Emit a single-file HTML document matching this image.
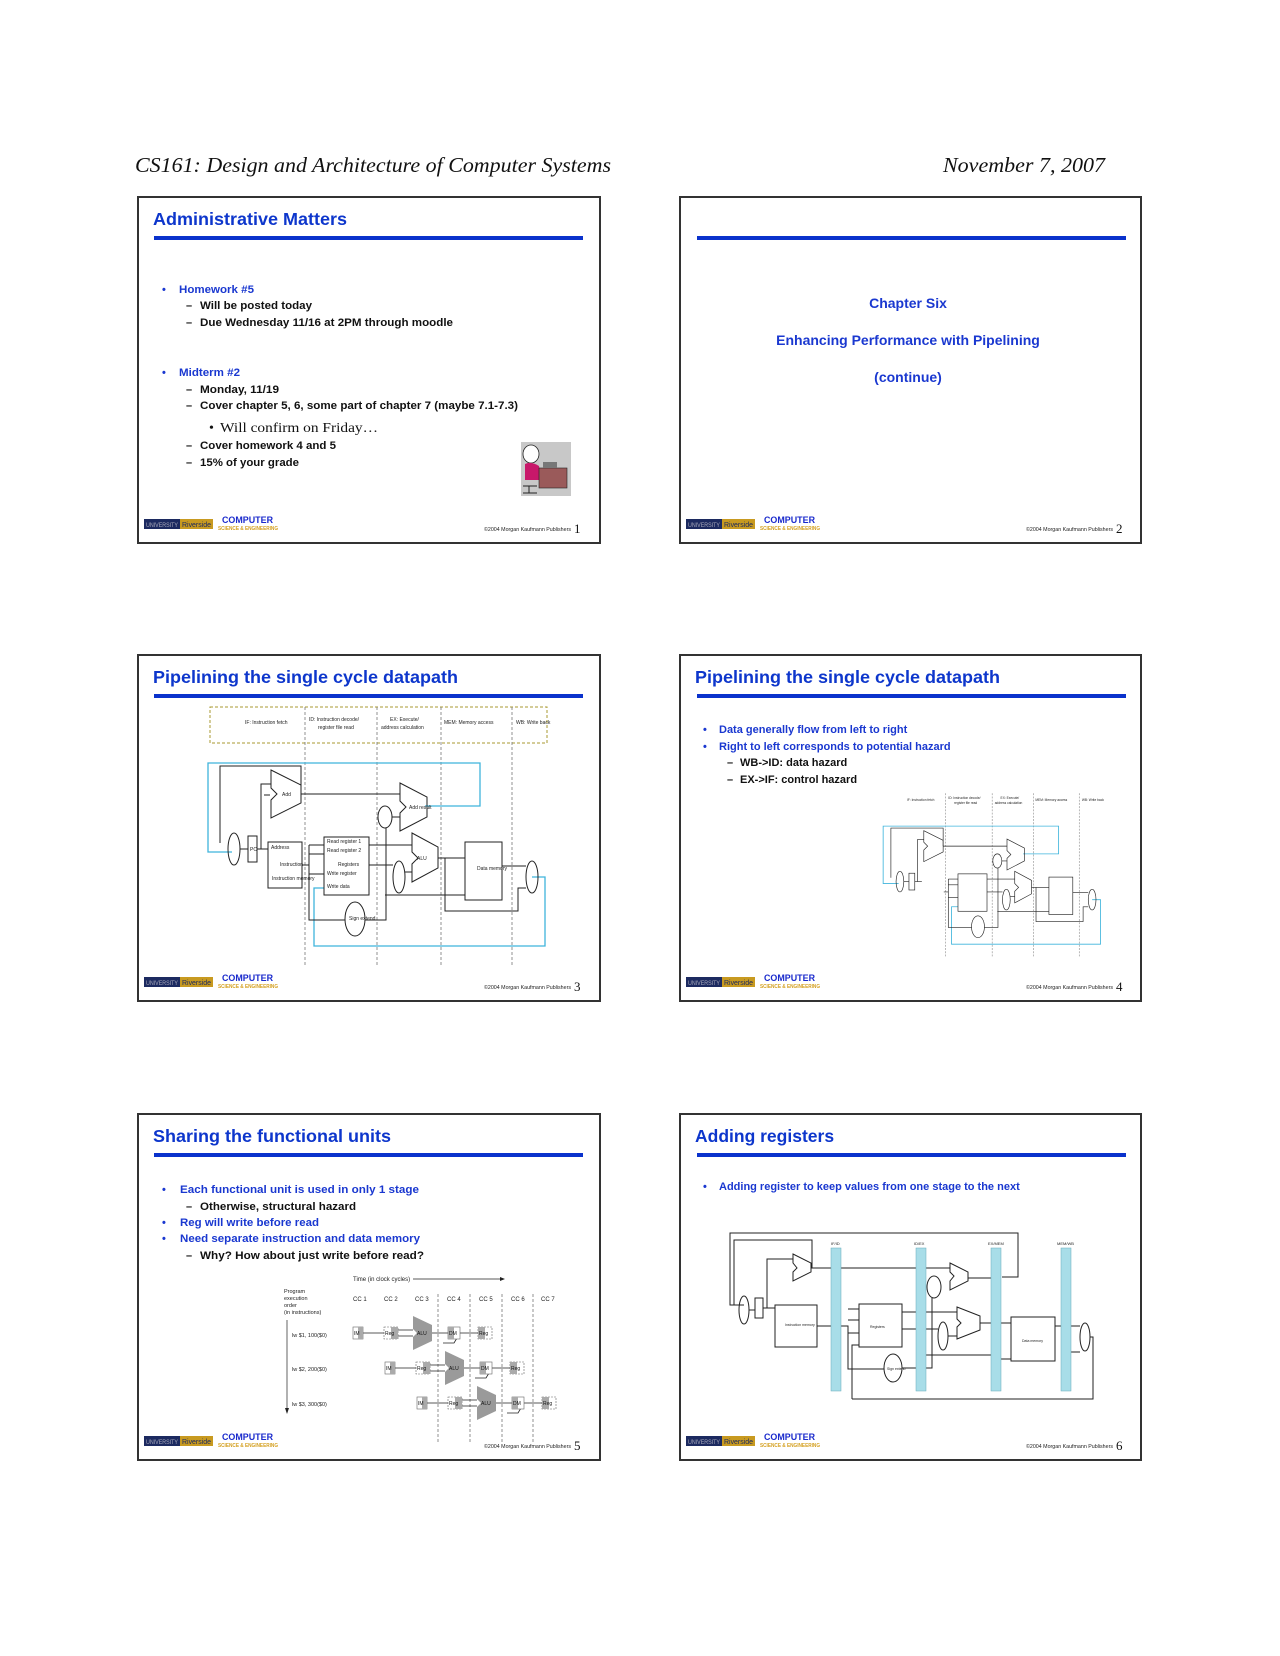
<!DOCTYPE html>
<html><head><meta charset="utf-8"><style>
html,body{margin:0;padding:0;background:#fff;}
svg{display:block;}
text{font-family:"Liberation Sans",Arial,sans-serif;}
text.sr{font-family:"Liberation Serif","Times New Roman",serif;}
.t{font-size:17.5px;font-weight:bold;fill:#0d36cc;}
.b{font-size:11px;font-weight:bold;fill:#1a38d0;}
.k{font-size:11px;font-weight:bold;fill:#111;}
.s{font-size:5px;fill:#222;}
.d{fill:none;stroke:#222;stroke-width:1;}
.c{fill:none;stroke:#3fb4dc;stroke-width:1.3;}
.v{stroke:#777;stroke-width:0.8;stroke-dasharray:3,2;}
</style></head><body>
<svg width="1280" height="1656" viewBox="0 0 1280 1656" xmlns="http://www.w3.org/2000/svg">
<rect width="1280" height="1656" fill="#fff"/>
<text class="sr" x="135" y="172" font-style="italic" font-size="21" fill="#111" textLength="476" lengthAdjust="spacingAndGlyphs">CS161: Design and Architecture of Computer Systems</text>
<text class="sr" x="943" y="172" font-style="italic" font-size="21" fill="#111" textLength="162" lengthAdjust="spacingAndGlyphs">November 7, 2007</text>

<!-- SLIDE 1 -->
<g transform="translate(137,196)">
<rect x="1" y="1" width="462" height="346" fill="#fff" stroke="#333" stroke-width="2"/>
<text class="t" x="16" y="29" textLength="194" lengthAdjust="spacingAndGlyphs">Administrative Matters</text>
<rect x="17" y="40" width="429" height="4" fill="#0a32cc"/>
<text class="b" x="25" y="97" font-size="8">•</text>
<text class="b" x="42" y="97" textLength="75" lengthAdjust="spacingAndGlyphs">Homework #5</text>
<text class="k" x="49" y="113">–</text><text class="k" x="63" y="113" textLength="112" lengthAdjust="spacingAndGlyphs">Will be posted today</text>
<text class="k" x="49" y="130">–</text><text class="k" x="63" y="130" textLength="253" lengthAdjust="spacingAndGlyphs">Due Wednesday 11/16 at 2PM through moodle</text>
<text class="b" x="25" y="180" font-size="8">•</text>
<text class="b" x="42" y="180" textLength="61" lengthAdjust="spacingAndGlyphs">Midterm #2</text>
<text class="k" x="49" y="197">–</text><text class="k" x="63" y="197" textLength="79" lengthAdjust="spacingAndGlyphs">Monday, 11/19</text>
<text class="k" x="49" y="213">–</text><text class="k" x="63" y="213" textLength="318" lengthAdjust="spacingAndGlyphs">Cover chapter 5, 6, some part of chapter 7 (maybe 7.1-7.3)</text>
<text class="sr" x="72" y="236" font-size="14" fill="#111">•</text>
<text class="sr" x="83" y="236" font-size="14" fill="#111" textLength="158" lengthAdjust="spacingAndGlyphs">Will confirm on Friday…</text>
<text class="k" x="49" y="253">–</text><text class="k" x="63" y="253" textLength="136" lengthAdjust="spacingAndGlyphs">Cover homework 4 and 5</text>
<text class="k" x="49" y="270">–</text><text class="k" x="63" y="270" textLength="99" lengthAdjust="spacingAndGlyphs">15% of your grade</text>
<rect x="384" y="246" width="50" height="54" fill="#c8c8c8"/>
<ellipse cx="394" cy="258" rx="8" ry="9" fill="#fff" stroke="#222" stroke-width="0.8"/>
<path d="M388 268 q6 -3 14 2 l2 14 h-16z" fill="#c8186a"/>
<rect x="402" y="272" width="28" height="20" fill="#9a5a5a" stroke="#222" stroke-width="0.6"/>
<rect x="406" y="266" width="14" height="6" fill="#777"/>
<path d="M386 290 h14 M392 290 v7 M386 297 h14" stroke="#222" stroke-width="1"/>
<rect x="7" y="323" width="36" height="10" fill="#1c2a60"/><rect x="43" y="323" width="33" height="10" fill="#c89a20"/>
<text x="9" y="331" font-size="6" fill="#aab" textLength="32" lengthAdjust="spacingAndGlyphs">UNIVERSITY</text>
<text x="45" y="331" font-size="7" fill="#1c2a60" textLength="29" lengthAdjust="spacingAndGlyphs">Riverside</text>
<text x="85" y="327" font-size="9" font-weight="bold" fill="#1a2acc" textLength="51" lengthAdjust="spacingAndGlyphs">COMPUTER</text>
<text x="81" y="334" font-size="5" font-weight="bold" fill="#d4a020" textLength="60" lengthAdjust="spacingAndGlyphs">SCIENCE &amp; ENGINEERING</text>
<text x="347" y="335" font-size="5" fill="#222" textLength="87" lengthAdjust="spacingAndGlyphs">©2004 Morgan Kaufmann Publishers</text>
<text class="sr" x="437" y="337" font-size="13" fill="#111">1</text>
</g>

<!-- SLIDE 2 -->
<g transform="translate(679,196)">
<rect x="1" y="1" width="461" height="346" fill="#fff" stroke="#333" stroke-width="2"/>
<rect x="18" y="40" width="429" height="4" fill="#0a32cc"/>
<text x="229" y="112" text-anchor="middle" font-size="14" font-weight="bold" fill="#1a38d0">Chapter Six</text>
<text x="229" y="149" text-anchor="middle" font-size="14" font-weight="bold" fill="#1a38d0">Enhancing Performance with Pipelining</text>
<text x="229" y="186" text-anchor="middle" font-size="14" font-weight="bold" fill="#1a38d0">(continue)</text>
<rect x="7" y="323" width="36" height="10" fill="#1c2a60"/><rect x="43" y="323" width="33" height="10" fill="#c89a20"/>
<text x="9" y="331" font-size="6" fill="#aab" textLength="32" lengthAdjust="spacingAndGlyphs">UNIVERSITY</text>
<text x="45" y="331" font-size="7" fill="#1c2a60" textLength="29" lengthAdjust="spacingAndGlyphs">Riverside</text>
<text x="85" y="327" font-size="9" font-weight="bold" fill="#1a2acc" textLength="51" lengthAdjust="spacingAndGlyphs">COMPUTER</text>
<text x="81" y="334" font-size="5" font-weight="bold" fill="#d4a020" textLength="60" lengthAdjust="spacingAndGlyphs">SCIENCE &amp; ENGINEERING</text>
<text x="347" y="335" font-size="5" fill="#222" textLength="87" lengthAdjust="spacingAndGlyphs">©2004 Morgan Kaufmann Publishers</text>
<text class="sr" x="437" y="337" font-size="13" fill="#111">2</text>
</g>

<!-- SLIDE 3 -->
<g transform="translate(137,654)">
<rect x="1" y="1" width="462" height="346" fill="#fff" stroke="#333" stroke-width="2"/>
<text class="t" x="16" y="29" textLength="305" lengthAdjust="spacingAndGlyphs">Pipelining the single cycle datapath</text>
<rect x="17" y="40" width="429" height="4" fill="#0a32cc"/>
<rect x="7" y="323" width="36" height="10" fill="#1c2a60"/><rect x="43" y="323" width="33" height="10" fill="#c89a20"/>
<text x="9" y="331" font-size="6" fill="#aab" textLength="32" lengthAdjust="spacingAndGlyphs">UNIVERSITY</text>
<text x="45" y="331" font-size="7" fill="#1c2a60" textLength="29" lengthAdjust="spacingAndGlyphs">Riverside</text>
<text x="85" y="327" font-size="9" font-weight="bold" fill="#1a2acc" textLength="51" lengthAdjust="spacingAndGlyphs">COMPUTER</text>
<text x="81" y="334" font-size="5" font-weight="bold" fill="#d4a020" textLength="60" lengthAdjust="spacingAndGlyphs">SCIENCE &amp; ENGINEERING</text>
<text x="347" y="335" font-size="5" fill="#222" textLength="87" lengthAdjust="spacingAndGlyphs">©2004 Morgan Kaufmann Publishers</text>
<text class="sr" x="437" y="337" font-size="13" fill="#111">3</text>
</g>
<g>
<rect x="210" y="707" width="337" height="36" fill="none" stroke="#a89a30" stroke-width="1" stroke-dasharray="3,2"/>
<text class="s" x="245" y="724">IF: Instruction fetch</text>
<text class="s" x="309" y="721">ID: Instruction decode/</text><text class="s" x="318" y="729">register file read</text>
<text class="s" x="390" y="721">EX: Execute/</text><text class="s" x="381" y="729">address calculation</text>
<text class="s" x="444" y="724">MEM: Memory access</text>
<text class="s" x="516" y="724">WB: Write back</text>
<line class="v" x1="305" y1="707" x2="305" y2="967"/><line class="v" x1="377" y1="707" x2="377" y2="967"/>
<line class="v" x1="441" y1="707" x2="441" y2="967"/><line class="v" x1="512" y1="707" x2="512" y2="967"/>
<path class="c" d="M232 852 H208 V763 H480 V806 H425"/>
<path class="c" d="M532 877 H545 V946 H314 V888 H324"/>
<path class="d" d="M220 843 V766 H301 V794"/>
<polygon class="d" points="271,770 301,785 301,803 271,818 271,800 277,794 271,788"/>
<polygon class="d" points="400,783 427,797 427,817 400,831 400,813 406,807 400,801"/>
<polygon class="d" points="412,833 438,847 438,868 412,882 412,864 418,858 412,852"/>
<rect class="d" x="248" y="836" width="9" height="26"/>
<ellipse class="d" cx="234" cy="849" rx="6" ry="16"/>
<rect class="d" x="268" y="842" width="34" height="46"/>
<rect class="d" x="324" y="837" width="45" height="58"/>
<rect class="d" x="465" y="842" width="37" height="58"/>
<ellipse class="d" cx="355" cy="919" rx="10" ry="17"/>
<ellipse class="d" cx="385" cy="817" rx="7" ry="11"/>
<ellipse class="d" cx="399" cy="877" rx="6" ry="16"/>
<ellipse class="d" cx="532" cy="877" rx="6" ry="16"/>
<path class="d" d="M240 849 H248 M257 849 H268 M261 849 V784 H271 M301 794 H400 M302 865 H309 M309 845 V920 H345 M309 845 H324 M309 854 H324 M309 874 H324 M369 845 H412 M369 865 H393 M405 872 H412 M438 858 H465 M502 866 H526 M385 895 H465 M365 920 H386 V828 M392 817 H400 M445 858 V911 H518 V888 H526 M270 795 H264"/>
<text class="s" x="282" y="796" font-size="4">Add</text>
<text class="s" x="409" y="809" font-size="4">Add result</text>
<text class="s" x="417" y="860" font-size="4">ALU</text>
<text class="s" x="271" y="849" font-size="3.5">Address</text>
<text class="s" x="280" y="866" font-size="3.5">Instruction</text>
<text class="s" x="272" y="880" font-size="3.5">Instruction memory</text>
<text class="s" x="327" y="843" font-size="3.5">Read register 1</text>
<text class="s" x="327" y="852" font-size="3.5">Read register 2</text>
<text class="s" x="338" y="866" font-size="3.5">Registers</text>
<text class="s" x="327" y="875" font-size="3.5">Write register</text>
<text class="s" x="327" y="888" font-size="3.5">Write data</text>
<text class="s" x="477" y="870" font-size="3.5">Data memory</text>
<text class="s" x="349" y="920" font-size="3.5">Sign extend</text>
<text class="s" x="250" y="851" font-size="3.5">PC</text>
</g>

<!-- SLIDE 4 -->
<g transform="translate(679,654)">
<rect x="1" y="1" width="461" height="346" fill="#fff" stroke="#333" stroke-width="2"/>
<text class="t" x="16" y="29" textLength="305" lengthAdjust="spacingAndGlyphs">Pipelining the single cycle datapath</text>
<rect x="18" y="40" width="429" height="4" fill="#0a32cc"/>
<text class="b" x="24" y="79" font-size="8">•</text><text class="b" x="40" y="79">Data generally flow from left to right</text>
<text class="b" x="24" y="96" font-size="8">•</text><text class="b" x="40" y="96">Right to left corresponds to potential hazard</text>
<text class="k" x="48" y="112">–</text><text class="k" x="61" y="112">WB-&gt;ID: data hazard</text>
<text class="k" x="48" y="129">–</text><text class="k" x="61" y="129">EX-&gt;IF: control hazard</text>
<rect x="7" y="323" width="36" height="10" fill="#1c2a60"/><rect x="43" y="323" width="33" height="10" fill="#c89a20"/>
<text x="9" y="331" font-size="6" fill="#aab" textLength="32" lengthAdjust="spacingAndGlyphs">UNIVERSITY</text>
<text x="45" y="331" font-size="7" fill="#1c2a60" textLength="29" lengthAdjust="spacingAndGlyphs">Riverside</text>
<text x="85" y="327" font-size="9" font-weight="bold" fill="#1a2acc" textLength="51" lengthAdjust="spacingAndGlyphs">COMPUTER</text>
<text x="81" y="334" font-size="5" font-weight="bold" fill="#d4a020" textLength="60" lengthAdjust="spacingAndGlyphs">SCIENCE &amp; ENGINEERING</text>
<text x="347" y="335" font-size="5" fill="#222" textLength="87" lengthAdjust="spacingAndGlyphs">©2004 Morgan Kaufmann Publishers</text>
<text class="sr" x="437" y="337" font-size="13" fill="#111">4</text>
</g>
<g transform="translate(749,334) scale(0.645)">
<text class="s" x="245" y="724">IF: Instruction fetch</text>
<text class="s" x="309" y="721">ID: Instruction decode/</text><text class="s" x="318" y="729">register file read</text>
<text class="s" x="390" y="721">EX: Execute/</text><text class="s" x="381" y="729">address calculation</text>
<text class="s" x="444" y="724">MEM: Memory access</text>
<text class="s" x="516" y="724">WB: Write back</text>
<line class="v" x1="305" y1="712" x2="305" y2="967"/><line class="v" x1="377" y1="712" x2="377" y2="967"/>
<line class="v" x1="441" y1="712" x2="441" y2="967"/><line class="v" x1="512" y1="712" x2="512" y2="967"/>
<path class="c" d="M232 852 H208 V763 H480 V806 H425"/>
<path class="c" d="M532 877 H545 V946 H314 V888 H324"/>
<path class="d" d="M220 843 V766 H301 V794"/>
<polygon class="d" points="271,770 301,785 301,803 271,818 271,800 277,794 271,788"/>
<polygon class="d" points="400,783 427,797 427,817 400,831 400,813 406,807 400,801"/>
<polygon class="d" points="412,833 438,847 438,868 412,882 412,864 418,858 412,852"/>
<rect class="d" x="248" y="836" width="9" height="26"/>
<ellipse class="d" cx="234" cy="849" rx="6" ry="16"/>
<rect class="d" x="324" y="837" width="45" height="58"/>
<rect class="d" x="465" y="842" width="37" height="58"/>
<ellipse class="d" cx="355" cy="919" rx="10" ry="17"/>
<ellipse class="d" cx="385" cy="817" rx="7" ry="11"/>
<ellipse class="d" cx="399" cy="877" rx="6" ry="16"/>
<ellipse class="d" cx="532" cy="877" rx="6" ry="16"/>
<path class="d" d="M240 849 H248 M257 849 H268 M261 849 V784 H271 M301 794 H400 M302 865 H309 M309 845 V920 H345 M309 845 H324 M309 854 H324 M309 874 H324 M369 845 H412 M369 865 H393 M405 872 H412 M438 858 H465 M502 866 H526 M385 895 H465 M365 920 H386 V828 M392 817 H400 M445 858 V911 H518 V888 H526"/>
</g>

<!-- SLIDE 5 -->
<g transform="translate(137,1113)">
<rect x="1" y="1" width="462" height="346" fill="#fff" stroke="#333" stroke-width="2"/>
<text class="t" x="16" y="29" textLength="238" lengthAdjust="spacingAndGlyphs">Sharing the functional units</text>
<rect x="17" y="40" width="429" height="4" fill="#0a32cc"/>
<text class="b" x="25" y="80" font-size="8">•</text><text class="b" x="43" y="80" textLength="239" lengthAdjust="spacingAndGlyphs">Each functional unit is used in only  1 stage</text>
<text class="k" x="49" y="97">–</text><text class="k" x="63" y="97" textLength="156" lengthAdjust="spacingAndGlyphs">Otherwise, structural hazard</text>
<text class="b" x="25" y="113" font-size="8">•</text><text class="b" x="43" y="113" textLength="139" lengthAdjust="spacingAndGlyphs">Reg will write before read</text>
<text class="b" x="25" y="129" font-size="8">•</text><text class="b" x="43" y="129" textLength="240" lengthAdjust="spacingAndGlyphs">Need separate instruction and data memory</text>
<text class="k" x="49" y="146">–</text><text class="k" x="63" y="146" textLength="224" lengthAdjust="spacingAndGlyphs">Why?  How about just write before read?</text>
<rect x="7" y="323" width="36" height="10" fill="#1c2a60"/><rect x="43" y="323" width="33" height="10" fill="#c89a20"/>
<text x="9" y="331" font-size="6" fill="#aab" textLength="32" lengthAdjust="spacingAndGlyphs">UNIVERSITY</text>
<text x="45" y="331" font-size="7" fill="#1c2a60" textLength="29" lengthAdjust="spacingAndGlyphs">Riverside</text>
<text x="85" y="327" font-size="9" font-weight="bold" fill="#1a2acc" textLength="51" lengthAdjust="spacingAndGlyphs">COMPUTER</text>
<text x="81" y="334" font-size="5" font-weight="bold" fill="#d4a020" textLength="60" lengthAdjust="spacingAndGlyphs">SCIENCE &amp; ENGINEERING</text>
<text x="347" y="335" font-size="5" fill="#222" textLength="87" lengthAdjust="spacingAndGlyphs">©2004 Morgan Kaufmann Publishers</text>
<text class="sr" x="437" y="337" font-size="13" fill="#111">5</text>
</g>
<g>
<text x="353" y="1281" font-size="6" fill="#222">Time (in clock cycles)</text>
<path d="M413 1279 H500" stroke="#222" stroke-width="0.7"/><polygon points="500,1277 505,1279 500,1281" fill="#222"/>
<text x="284" y="1293" font-size="5.5" fill="#222">Program</text>
<text x="284" y="1300" font-size="5.5" fill="#222">execution</text>
<text x="284" y="1307" font-size="5.5" fill="#222">order</text>
<text x="284" y="1314" font-size="5.5" fill="#222">(in instructions)</text>
<path d="M287 1320 V1410" stroke="#222" stroke-width="0.7"/><polygon points="285,1408 287,1414 289,1408" fill="#222"/>
<text x="353" y="1301" font-size="6" fill="#222">CC 1</text><text x="384" y="1301" font-size="6" fill="#222">CC 2</text>
<text x="415" y="1301" font-size="6" fill="#222">CC 3</text><text x="447" y="1301" font-size="6" fill="#222">CC 4</text>
<text x="479" y="1301" font-size="6" fill="#222">CC 5</text><text x="511" y="1301" font-size="6" fill="#222">CC 6</text>
<text x="541" y="1301" font-size="6" fill="#222">CC 7</text>
<line class="v" x1="438" y1="1294" x2="438" y2="1442"/><line class="v" x1="470" y1="1294" x2="470" y2="1442"/>
<line class="v" x1="502" y1="1294" x2="502" y2="1442"/><line class="v" x1="533" y1="1294" x2="533" y2="1442"/>
<text x="292" y="1337" font-size="5.5" fill="#222">lw $1, 100($0)</text>
<text x="292" y="1371" font-size="5.5" fill="#222">lw $2, 200($0)</text>
<text x="292" y="1406" font-size="5.5" fill="#222">lw $3, 300($0)</text>
<g transform="translate(353,1333)">
<path d="M10 0 H31 M45 -3 H60 M45 3 H60 M79 0 H95 M107 0 H125 M104 5 L101 10 H90" stroke="#222" stroke-width="0.8" fill="none"/>
<rect x="0" y="-6" width="10" height="12" fill="#fff" stroke="#666" stroke-width="0.6"/><rect x="5" y="-6" width="5" height="12" fill="#aaa"/>
<text x="1" y="2" font-size="5" fill="#111">IM</text>
<rect x="31" y="-6" width="14" height="12" fill="#fff" stroke="#666" stroke-width="0.6" stroke-dasharray="2,1"/><rect x="38" y="-6" width="7" height="12" fill="#aaa"/>
<text x="32" y="2" font-size="5" fill="#111">Reg</text>
<polygon points="60,-17 79,-8 79,8 60,17 60,4 64,0 60,-4" fill="#9a9a9a"/>
<text x="64" y="2" font-size="5" fill="#111">ALU</text>
<rect x="95" y="-6" width="12" height="12" fill="#fff" stroke="#666" stroke-width="0.6"/><rect x="95" y="-6" width="6" height="12" fill="#aaa"/>
<text x="96" y="2" font-size="5" fill="#111">DM</text>
<rect x="125" y="-6" width="14" height="12" fill="#fff" stroke="#666" stroke-width="0.6" stroke-dasharray="2,1"/><rect x="125" y="-6" width="7" height="12" fill="#aaa"/>
<text x="126" y="2" font-size="5" fill="#111">Reg</text>
</g>
<g transform="translate(385,1368)">
<path d="M10 0 H31 M45 -3 H60 M45 3 H60 M79 0 H95 M107 0 H125 M104 5 L101 10 H90" stroke="#222" stroke-width="0.8" fill="none"/>
<rect x="0" y="-6" width="10" height="12" fill="#fff" stroke="#666" stroke-width="0.6"/><rect x="5" y="-6" width="5" height="12" fill="#aaa"/>
<text x="1" y="2" font-size="5" fill="#111">IM</text>
<rect x="31" y="-6" width="14" height="12" fill="#fff" stroke="#666" stroke-width="0.6" stroke-dasharray="2,1"/><rect x="38" y="-6" width="7" height="12" fill="#aaa"/>
<text x="32" y="2" font-size="5" fill="#111">Reg</text>
<polygon points="60,-17 79,-8 79,8 60,17 60,4 64,0 60,-4" fill="#9a9a9a"/>
<text x="64" y="2" font-size="5" fill="#111">ALU</text>
<rect x="95" y="-6" width="12" height="12" fill="#fff" stroke="#666" stroke-width="0.6"/><rect x="95" y="-6" width="6" height="12" fill="#aaa"/>
<text x="96" y="2" font-size="5" fill="#111">DM</text>
<rect x="125" y="-6" width="14" height="12" fill="#fff" stroke="#666" stroke-width="0.6" stroke-dasharray="2,1"/><rect x="125" y="-6" width="7" height="12" fill="#aaa"/>
<text x="126" y="2" font-size="5" fill="#111">Reg</text>
</g>
<g transform="translate(417,1403)">
<path d="M10 0 H31 M45 -3 H60 M45 3 H60 M79 0 H95 M107 0 H125 M104 5 L101 10 H90" stroke="#222" stroke-width="0.8" fill="none"/>
<rect x="0" y="-6" width="10" height="12" fill="#fff" stroke="#666" stroke-width="0.6"/><rect x="5" y="-6" width="5" height="12" fill="#aaa"/>
<text x="1" y="2" font-size="5" fill="#111">IM</text>
<rect x="31" y="-6" width="14" height="12" fill="#fff" stroke="#666" stroke-width="0.6" stroke-dasharray="2,1"/><rect x="38" y="-6" width="7" height="12" fill="#aaa"/>
<text x="32" y="2" font-size="5" fill="#111">Reg</text>
<polygon points="60,-17 79,-8 79,8 60,17 60,4 64,0 60,-4" fill="#9a9a9a"/>
<text x="64" y="2" font-size="5" fill="#111">ALU</text>
<rect x="95" y="-6" width="12" height="12" fill="#fff" stroke="#666" stroke-width="0.6"/><rect x="95" y="-6" width="6" height="12" fill="#aaa"/>
<text x="96" y="2" font-size="5" fill="#111">DM</text>
<rect x="125" y="-6" width="14" height="12" fill="#fff" stroke="#666" stroke-width="0.6" stroke-dasharray="2,1"/><rect x="125" y="-6" width="7" height="12" fill="#aaa"/>
<text x="126" y="2" font-size="5" fill="#111">Reg</text>
</g>
</g>

<!-- SLIDE 6 -->
<g transform="translate(679,1113)">
<rect x="1" y="1" width="461" height="346" fill="#fff" stroke="#333" stroke-width="2"/>
<text class="t" x="16" y="29">Adding registers</text>
<rect x="18" y="40" width="429" height="4" fill="#0a32cc"/>
<text class="b" x="24" y="77" font-size="8">•</text><text class="b" x="40" y="77" font-size="10">Adding register to keep values from one stage to the next</text>
<rect x="7" y="323" width="36" height="10" fill="#1c2a60"/><rect x="43" y="323" width="33" height="10" fill="#c89a20"/>
<text x="9" y="331" font-size="6" fill="#aab" textLength="32" lengthAdjust="spacingAndGlyphs">UNIVERSITY</text>
<text x="45" y="331" font-size="7" fill="#1c2a60" textLength="29" lengthAdjust="spacingAndGlyphs">Riverside</text>
<text x="85" y="327" font-size="9" font-weight="bold" fill="#1a2acc" textLength="51" lengthAdjust="spacingAndGlyphs">COMPUTER</text>
<text x="81" y="334" font-size="5" font-weight="bold" fill="#d4a020" textLength="60" lengthAdjust="spacingAndGlyphs">SCIENCE &amp; ENGINEERING</text>
<text x="347" y="335" font-size="5" fill="#222" textLength="87" lengthAdjust="spacingAndGlyphs">©2004 Morgan Kaufmann Publishers</text>
<text class="sr" x="437" y="337" font-size="13" fill="#111">6</text>
</g>
<g>
<path class="d" d="M744 1305 H730 V1233 H1018 V1277 H1002"/>
<path class="d" d="M744 1305 H734 V1240 H812 V1268"/>
<polygon class="d" points="793,1254 811,1263 811,1272 793,1281 793,1272 797,1268 793,1263"/>
<polygon class="d" points="950,1263 968,1272 968,1281 950,1290 950,1281 954,1276 950,1272"/>
<polygon class="d" points="957,1307 980,1316 980,1330 957,1339 957,1327 961,1323 957,1319"/>
<ellipse class="d" cx="744" cy="1310" rx="5" ry="14"/>
<rect class="d" x="755" y="1298" width="8" height="20"/>
<rect class="d" x="775" y="1305" width="42" height="42"/>
<rect class="d" x="859" y="1304" width="43" height="43"/>
<rect class="d" x="1011" y="1317" width="44" height="44"/>
<ellipse class="d" cx="893" cy="1368" rx="9" ry="14"/>
<ellipse class="d" cx="934" cy="1287" rx="7" ry="11"/>
<ellipse class="d" cx="943" cy="1336" rx="5" ry="14"/>
<ellipse class="d" cx="1085" cy="1337" rx="5" ry="14"/>
<path class="d" d="M749 1310 H755 M763 1308 H775 M767 1308 V1259 H793 M811 1268 H831 M841 1268 H916 M926 1268 H950 M817 1326 H831 M841 1326 H848 V1369 H884 M848 1309 H859 M848 1320 H859 M848 1333 H859 M902 1312 H916 M902 1329 H916 M926 1312 H957 M926 1329 H938 M948 1336 H957 M968 1278 H991 M980 1323 H991 M1001 1323 H1011 M1055 1326 H1061 M1071 1326 H1080 M902 1368 H916 M926 1368 H932 V1298 M926 1355 H991 M1001 1359 H1011 M1071 1352 H1080 M852 1399 H1093 V1337 H1090 M852 1399 V1345 H859"/>
<rect x="831" y="1248" width="10" height="143" fill="#a8dde8" stroke="#6ab" stroke-width="0.5"/>
<rect x="916" y="1248" width="10" height="143" fill="#a8dde8" stroke="#6ab" stroke-width="0.5"/>
<rect x="991" y="1248" width="10" height="143" fill="#a8dde8" stroke="#6ab" stroke-width="0.5"/>
<rect x="1061" y="1248" width="10" height="143" fill="#a8dde8" stroke="#6ab" stroke-width="0.5"/>
<text x="831" y="1245" font-size="4" fill="#222">IF/ID</text><text x="914" y="1245" font-size="4" fill="#222">ID/EX</text>
<text x="988" y="1245" font-size="4" fill="#222">EX/MEM</text><text x="1057" y="1245" font-size="4" fill="#222">MEM/WB</text>
<text x="785" y="1326" font-size="3.5" fill="#222">Instruction memory</text>
<text x="870" y="1328" font-size="3.5" fill="#222">Registers</text>
<text x="1022" y="1342" font-size="3.5" fill="#222">Data memory</text>
<text x="887" y="1370" font-size="3.5" fill="#222">Sign extend</text>
</g>
</svg>
</body></html>
